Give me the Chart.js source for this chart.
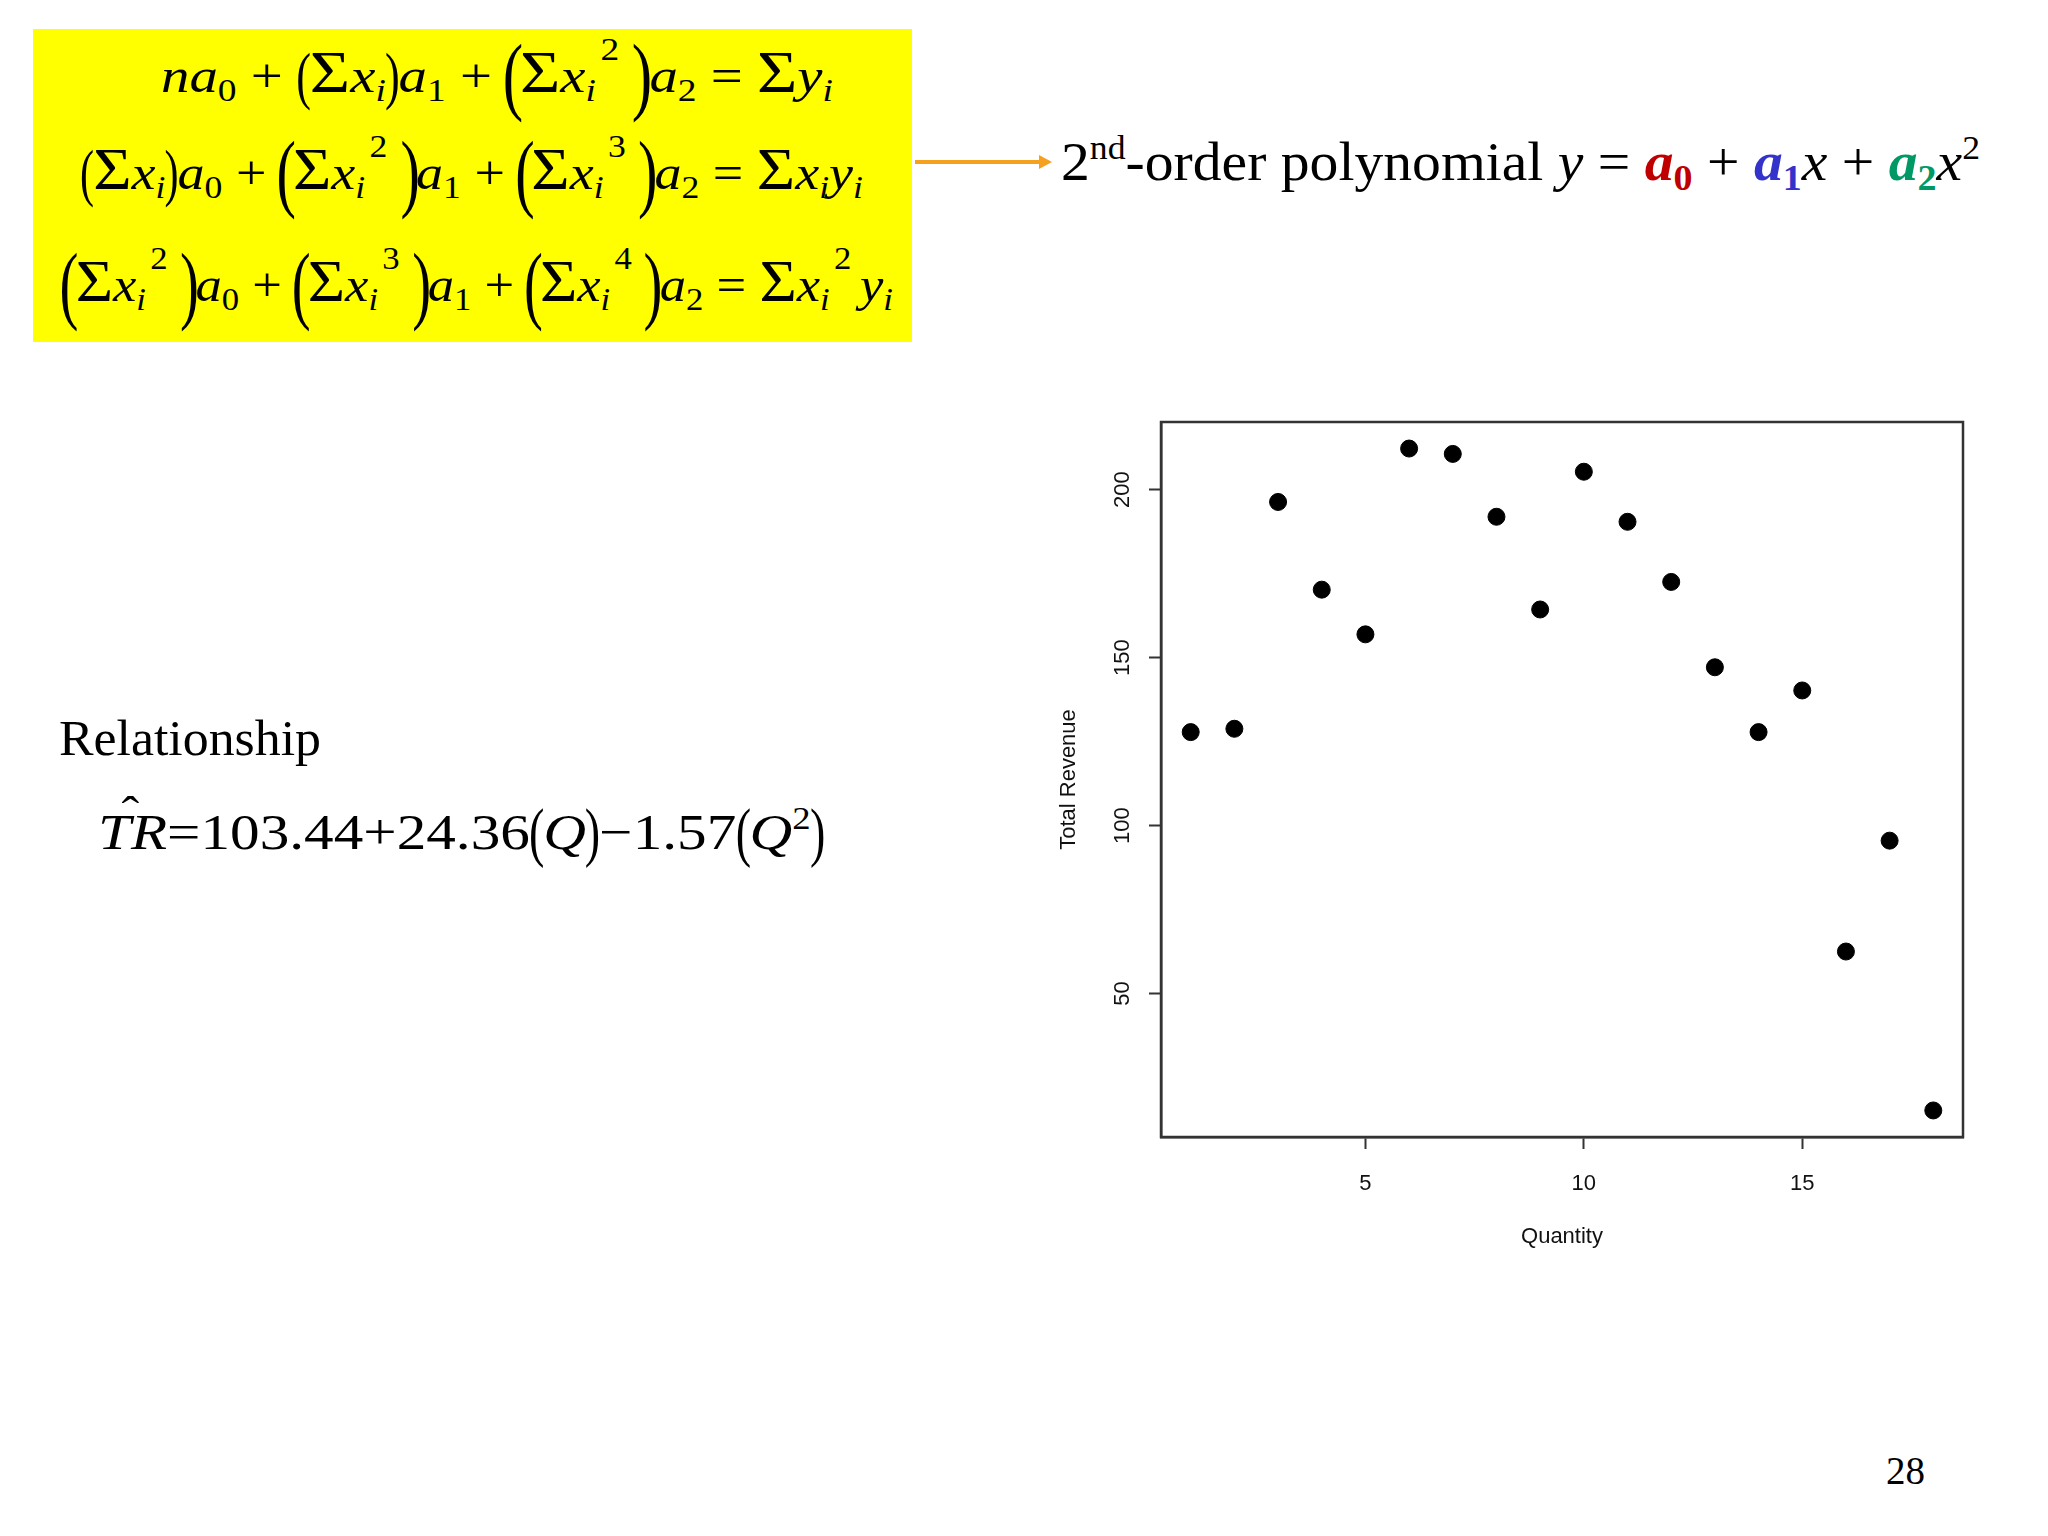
<!DOCTYPE html>
<html>
<head>
<meta charset="utf-8">
<title>2nd-order polynomial</title>
<script src="https://cdn.jsdelivr.net/npm/chart.js@4.4.0/dist/chart.umd.min.js"></script>
<style>
  html, body { margin: 0; padding: 0; background: #fff; }
  body { width: 2048px; height: 1536px; position: relative; overflow: hidden;
         font-family: 'Liberation Serif', 'DejaVu Serif', serif; color: #000; }
  .eqbox { position: absolute; left: 33px; top: 29px; width: 879px; height: 313px; background: #ffff00; }
  .line { position: absolute; white-space: nowrap; line-height: 1; transform-origin: 0 0; }
  .eq { font-size: 48px; }
  .line sub { font-size: 0.66em; vertical-align: -0.28em; line-height: 0; }
  .line sup { font-size: 0.62em; vertical-align: 0.62em; line-height: 0; }
  .ss { display: inline-block; font-size: 0.66em; line-height: 1.3; vertical-align: -0.28em; padding-right: 0.25em; }
  .ss > span { display: block; }
  .ss > .up { padding-left: 0.4em; font-style: normal; }
  .p, .P { display: inline-block; font-style: normal; transform: scaleX(0.6); }
  .p { font-size: 1.3em; vertical-align: -0.08em; margin: 0 -0.08em; }
  .P { font-size: 1.8em; vertical-align: -0.14em; margin: 0 -0.1em; }
  .P.c { margin-left: -0.03em; }
  .sg { font-style: normal; font-size: 1.22em; }
  .poly { font-size: 55px; }
  .poly b { font-weight: bold; }
  .red { color: #c00000; }
  .blue { color: #3333cc; }
  .green { color: #009966; }
  .rel { font-size: 51px; }
  .hatw { position: relative; }
  .hat { position: absolute; left: 0.44em; top: -0.29em; font-size: 0.9em; font-style: normal; }
  .mark { display: inline-block; width: 0; height: 0; }
  #chartWrap { position: absolute; left: 1025px; top: 395px; width: 965px; height: 890px; }
</style>
</head>
<body>
<div class="eqbox"></div>

<div class="line eq" data-x="161" data-base="92" data-w="672">
  <i>n</i><i>a</i><sub>0</sub> + <span class="p">(</span><span class="sg">Σ</span><i>x</i><sub><i>i</i></sub><span class="p">)</span><i>a</i><sub>1</sub> + <span class="P">(</span><span class="sg">Σ</span><i>x</i><span class="ss"><span class="up">2</span><span><i>i</i></span></span><span class="P c">)</span><i>a</i><sub>2</sub> = <span class="sg">Σ</span><i>y</i><sub><i>i</i></sub>
</div>
<div class="line eq" data-x="81" data-base="189" data-w="782">
  <span class="p">(</span><span class="sg">Σ</span><i>x</i><sub><i>i</i></sub><span class="p">)</span><i>a</i><sub>0</sub> + <span class="P">(</span><span class="sg">Σ</span><i>x</i><span class="ss"><span class="up">2</span><span><i>i</i></span></span><span class="P c">)</span><i>a</i><sub>1</sub> + <span class="P">(</span><span class="sg">Σ</span><i>x</i><span class="ss"><span class="up">3</span><span><i>i</i></span></span><span class="P c">)</span><i>a</i><sub>2</sub> = <span class="sg">Σ</span><i>x</i><sub><i>i</i></sub><i>y</i><sub><i>i</i></sub>
</div>
<div class="line eq" data-x="63" data-base="301" data-w="830">
  <span class="P">(</span><span class="sg">Σ</span><i>x</i><span class="ss"><span class="up">2</span><span><i>i</i></span></span><span class="P c">)</span><i>a</i><sub>0</sub> + <span class="P">(</span><span class="sg">Σ</span><i>x</i><span class="ss"><span class="up">3</span><span><i>i</i></span></span><span class="P c">)</span><i>a</i><sub>1</sub> + <span class="P">(</span><span class="sg">Σ</span><i>x</i><span class="ss"><span class="up">4</span><span><i>i</i></span></span><span class="P c">)</span><i>a</i><sub>2</sub> = <span class="sg">Σ</span><i>x</i><span class="ss"><span class="up">2</span><span><i>i</i></span></span><i>y</i><sub><i>i</i></sub>
</div>

<svg style="position:absolute;left:913px;top:148px" width="145" height="28">
  <line x1="2" y1="14" x2="128" y2="14" stroke="#f5a01e" stroke-width="4"/>
  <polygon points="126,7 139,14 126,21" fill="#f5a01e"/>
</svg>

<div class="line poly" data-x="1061" data-base="180" data-w="919">
  2<sup>nd</sup>-order polynomial <i>y</i> = <b class="red"><i>a</i><sub>0</sub></b> + <b class="blue"><i>a</i><sub>1</sub></b><i>x</i> + <b class="green"><i>a</i><sub>2</sub></b><i>x</i><sup>2</sup>
</div>

<div class="line rel" data-x="59" data-base="755" data-w="262">Relationship</div>
<div class="line rel" data-x="98" data-base="849" data-w="726">
  <span class="hatw"><i>T</i><i>R</i><span class="hat">ˆ</span></span>=103.44+24.36<span class="p">(</span><i>Q</i><span class="p">)</span>−1.57<span class="p">(</span><i>Q</i><sup>2</sup><span class="p">)</span>
</div>

<div class="line" style="font-size:39px" data-x="1886" data-base="1484">28</div>

<div id="chartWrap"><canvas id="chart" width="965" height="890"></canvas></div>

<script>
// scatter data
const quantity = [1, 2, 3, 4, 5, 6, 7, 8, 9, 10, 11, 12, 13, 14, 15, 16, 17, 18];
const totalRevenue = [127.8, 128.8, 196.3, 170.2, 156.9, 212.2, 210.6, 191.9, 164.3,
                      205.3, 190.4, 172.5, 147.1, 127.8, 140.2, 62.5, 95.5, 15.2];
const xTickValues = [5, 10, 15];
const yTickValues = [50, 100, 150, 200];

// place the text lines on their baselines and squeeze them to the slide widths
document.querySelectorAll('.line').forEach(el => {
    el.innerHTML = el.innerHTML.trim();
    const mark = document.createElement('span');
    mark.className = 'mark';
    el.appendChild(mark);
    el.style.left = el.dataset.x + 'px';
    el.style.top = '0px';
    const off = mark.getBoundingClientRect().top - el.getBoundingClientRect().top;
    el.style.top = (parseFloat(el.dataset.base) - off) + 'px';
    if (el.dataset.w) {
        const w = el.getBoundingClientRect().width;
        el.style.transform = 'scaleX(' + (parseFloat(el.dataset.w) / w) + ')';
    }
});

const points = quantity.map((q, i) => ({ x: q, y: totalRevenue[i] }));

// R style box round the plot region
const plotFrame = {
    id: 'plotFrame',
    afterDraw(chart) {
        const { ctx, chartArea: a } = chart;
        ctx.save();
        ctx.strokeStyle = '#333';
        ctx.lineWidth = 2.5;
        ctx.strokeRect(a.left, a.top, a.right - a.left, a.bottom - a.top);
        ctx.restore();
    }
};

const tickFont = { family: "'Liberation Sans', Arial, sans-serif", size: 22 };
const titleFont = { family: "'Liberation Sans', Arial, sans-serif", size: 22 };

new Chart(document.getElementById('chart'), {
    type: 'scatter',
    data: {
        datasets: [{
            data: points,
            backgroundColor: '#000',
            borderColor: '#000',
            pointRadius: 8.5,
            pointHoverRadius: 8.5
        }]
    },
    options: {
        responsive: false,
        animation: false,
        devicePixelRatio: 1,
        layout: { padding: { left: 20, top: 27, right: 27, bottom: 0 } },
        plugins: { legend: { display: false }, tooltip: { enabled: false } },
        scales: {
            x: {
                type: 'linear',
                min: 0.32,
                max: 18.68,
                afterBuildTicks: s => { s.ticks = xTickValues.map(v => ({ value: v })); },
                afterFit: s => { s.height = 148; },
                grid: { drawOnChartArea: false, drawTicks: true, tickLength: 12, tickWidth: 2, tickColor: '#333' },
                border: { display: true, color: '#333', width: 2.5 },
                ticks: { font: tickFont, color: '#111', padding: 22, maxRotation: 0 },
                title: { display: true, text: 'Quantity', font: titleFont, color: '#111', padding: { top: 0, bottom: 35 } }
            },
            y: {
                type: 'linear',
                min: 7.3,
                max: 220.1,
                afterBuildTicks: s => { s.ticks = yTickValues.map(v => ({ value: v })); },
                afterFit: s => { s.width = 116; },
                grid: { drawOnChartArea: false, drawTicks: true, tickLength: 12, tickWidth: 2, tickColor: '#333' },
                border: { display: true, color: '#333', width: 2.5 },
                ticks: { font: tickFont, color: '#111', padding: 8, minRotation: 90, maxRotation: 90, crossAlign: 'center' },
                title: { display: true, text: 'Total Revenue', font: titleFont, color: '#111', padding: { top: 11, bottom: 0 } }
            }
        }
    },
    plugins: [plotFrame]
});
</script>
</body>
</html>
